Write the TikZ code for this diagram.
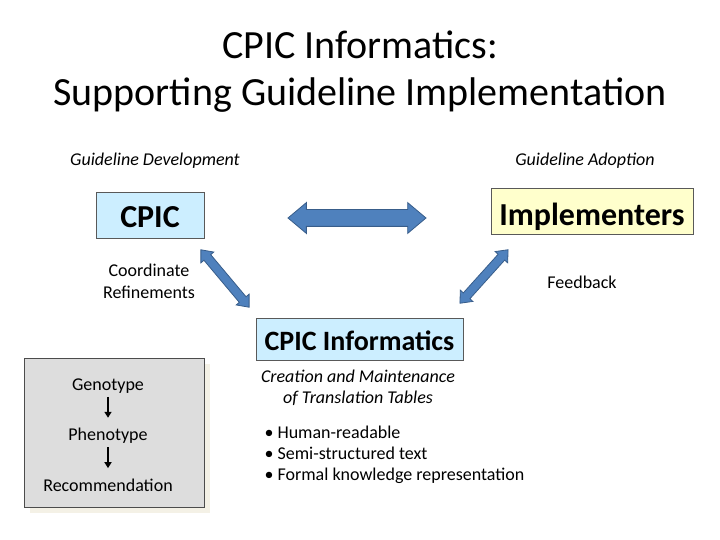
\documentclass[tikz,border=0pt]{standalone}
\usepackage{fontspec}
\setmainfont{Carlito}
\usetikzlibrary{shapes.arrows,arrows.meta}
\definecolor{boxblue}{HTML}{CCEEFF}
\definecolor{boxyellow}{HTML}{FFFFCC}
\definecolor{arrowfill}{HTML}{4F81BD}
\definecolor{arrowline}{HTML}{385D8A}
\definecolor{graybox}{HTML}{DDDDDD}
\definecolor{shadowc}{HTML}{F4F1E6}
\begin{document}
\begin{tikzpicture}[x=1pt,y=-1pt,
  mainbox/.style={draw=black!65, line width=0.8pt, inner sep=0pt, text depth=0pt},
  dblarrow/.style={double arrow, draw=arrowline, fill=arrowfill, line width=0.8pt, inner xsep=0pt, double arrow tip angle=80},
  lbl/.style={font=\fontsize{18}{22}\selectfont, align=center},
  ilbl/.style={font=\fontsize{18}{21}\selectfont\itshape, align=center}]
\useasboundingbox (0,0) rectangle (720,540);
% title
\node[font=\fontsize{40}{47}\selectfont, align=center] (title) at (360,72) {CPIC Informatics:\\Supporting Guideline Implementation};
\node[ilbl] (gdev) at (155,161) {Guideline Development};
\node[ilbl] (gad) at (585,161) {Guideline Adoption};
% boxes
\node[mainbox, fill=boxblue, minimum width=108pt, minimum height=46pt, text height=26pt, font=\fontsize{32}{38}\selectfont\bfseries] (cpic) at (150,215) {CPIC};
\node[mainbox, fill=boxyellow, minimum width=202pt, minimum height=46pt, text height=28pt, font=\fontsize{32}{38}\selectfont\bfseries] (impl) at (592,211.7) {Implementers};
\node[mainbox, fill=boxblue, minimum width=207pt, minimum height=42pt, text height=22pt, font=\fontsize{28}{33}\selectfont\bfseries] (info) at (359.5,339.2) {CPIC Informatics};
% arrows
\node[dblarrow, inner ysep=8pt, double arrow head extend=7pt, minimum height=138pt] (harrow) at (357,218) {};
\node[dblarrow, inner ysep=4pt, double arrow head extend=4pt, minimum height=75pt, rotate=-50] (larrow) at (225,278.5) {};
\node[dblarrow, inner ysep=4pt, double arrow head extend=4pt, minimum height=72pt, rotate=48] (rarrow) at (484,276.5) {};
% labels
\node[lbl] (coord) at (149,281) {Coordinate\\Refinements};
\node[lbl] (fb) at (582,282) {Feedback};
\node[ilbl] (creation) at (358,387.5) {Creation and Maintenance\\of Translation Tables};
\node[lbl, align=left, anchor=west, font=\fontsize{18}{21}\selectfont] (bul) at (261,455) {• Human-readable\\• Semi-structured text\\• Formal knowledge representation};
% gray box
\fill[shadowc] (30,364) rectangle (210,513);
\node[draw=black!70, line width=0.8pt, fill=graybox, minimum width=180pt, minimum height=149pt, inner sep=0pt] (gbox) at (114,432.5) {};
\node[lbl] (geno) at (108,386) {Genotype};
\node[lbl] (pheno) at (108,436) {Phenotype};
\node[lbl] (rec) at (108,485) {Recommendation};
\draw[-{Triangle[length=6pt,width=7pt]}, line width=1.5pt, shorten <=0pt, shorten >=7pt] (geno) -- (pheno);
\draw[-{Triangle[length=6pt,width=7pt]}, line width=1.5pt, shorten <=0pt, shorten >=7pt] (pheno) -- (rec);
\end{tikzpicture}
\end{document}
